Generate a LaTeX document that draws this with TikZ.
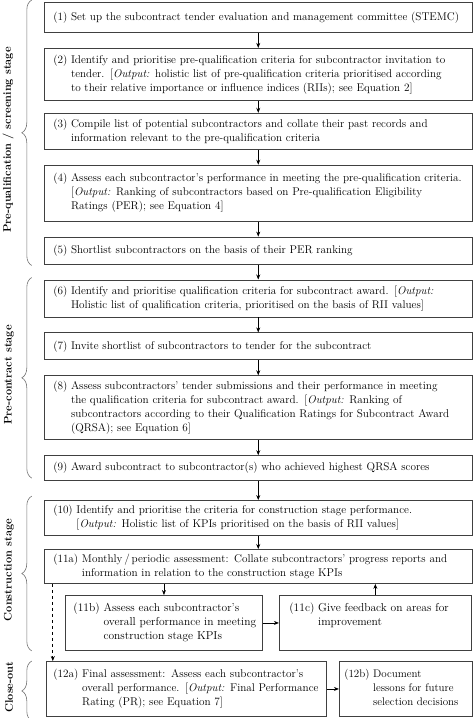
\documentclass[tikz,border=0pt]{standalone}
\usepackage{fontspec}
\usetikzlibrary{positioning,decorations.pathreplacing,arrows.meta}
\newcommand{\stagetext}[2]{\begin{tabular}{@{}l@{\ }l@{}}#1&#2\end{tabular}}
\pgfkeys{tikz/mainbox/.style={draw=black!75, line width=0.9pt, rectangle,
                                  inner xsep=9pt, inner ysep=3pt,
                                  text width=410pt, align=left,
                                  font=\fontsize{11.2}{14}\selectfont}}
\pgfkeys{tikz/subbox/.style={draw=black!75, line width=0.9pt, rectangle,
                                 inner ysep=3pt, align=left,
                                 font=\fontsize{11.5}{14}\selectfont}}
\begin{document}
\begin{tikzpicture}[x=1pt,y=-1pt,
        flow/.style={-{Stealth[length=5pt,width=4pt]}, line width=0.7pt},
        stagebrace/.style={decorate, decoration={brace, amplitude=10pt}, draw=black!55, line width=0.6pt},
        stagelabel/.style={rotate=90, font=\fontsize{11}{14}\selectfont\bfseries}]
    \useasboundingbox (0,0) rectangle (474,718);
    % main chain of steps
    \node [mainbox, minimum height=30pt, anchor=north] (b1) at (258.25,2) {\stagetext{(1)}{Set up the subcontract tender evaluation and management committee (STEMC)}};
    \node [mainbox, minimum height=52pt, below=15pt of b1] (b2) {\stagetext{(2)}{Identify and prioritise pre-qualification criteria for subcontractor invitation to\\ & tender. [\textit{Output:} holistic list of pre-qualification criteria prioritised according\\ & to their relative importance or influence indices (RIIs); see Equation 2]}};
    \node [mainbox, minimum height=36pt, below=12pt of b2] (b3) {\stagetext{(3)}{Compile list of potential subcontractors and collate their past records and\\ & information relevant to the pre-qualification criteria}};
    \node [mainbox, minimum height=56pt, below=15pt of b3] (b4) {\stagetext{(4)}{Assess each subcontractor's performance in meeting the pre-qualification criteria.\\ & [\textit{Output:} Ranking of subcontractors based on Pre-qualification Eligibility\\ & Ratings (PER); see Equation 4]}};
    \node [mainbox, minimum height=27pt, below=15pt of b4] (b5) {\stagetext{(5)}{Shortlist subcontractors on the basis of their PER ranking}};
    \node [mainbox, minimum height=37pt, below=15pt of b5] (b6) {\stagetext{(6)}{Identify and prioritise qualification criteria for subcontract award. [\textit{Output:}\\ & Holistic list of qualification criteria, prioritised on the basis of RII values]}};
    \node [mainbox, minimum height=27pt, below=15pt of b6] (b7) {\stagetext{(7)}{Invite shortlist of subcontractors to tender for the subcontract}};
    \node [mainbox, minimum height=64pt, below=15pt of b7] (b8) {\stagetext{(8)}{Assess subcontractors' tender submissions and their performance in meeting\\ & the qualification criteria for subcontract award. [\textit{Output:} Ranking of\\ & subcontractors according to their Qualification Ratings for Subcontract Award\\ & (QRSA); see Equation 6]}};
    \node [mainbox, minimum height=25pt, below=15pt of b8] (b9) {\stagetext{(9)}{Award subcontract to subcontractor(s) who achieved highest QRSA scores}};
    \node [mainbox, minimum height=35pt, below=19pt of b9] (b10) {\stagetext{(10)}{Identify and prioritise the criteria for construction stage performance.\\ & [\textit{Output:} Holistic list of KPIs prioritised on the basis of RII values]}};
    \node [mainbox, minimum height=32pt, below=13pt of b10] (b11a) {\stagetext{(11a)}{Monthly\,/\,periodic assessment: Collate subcontractors' progress reports and\\ & information in relation to the construction stage KPIs}};
    % split rows
    \node [subbox, inner xsep=8pt, text width=181pt, minimum height=55pt, anchor=north west] (b11b) at (65,595) {\stagetext{(11b)}{Assess each subcontractor's\\ & overall performance in meeting\\ & construction stage KPIs}};
    \node [subbox, inner xsep=10pt, text width=172pt, minimum height=55pt, right=16pt of b11b] (b11c) {\stagetext{(11c)}{Give feedback on areas for\\ & improvement\\ & \strut}};
    \node [subbox, inner xsep=7pt, text width=266pt, minimum height=55pt, anchor=north west, font=\fontsize{11.2}{14}\selectfont] (b12a) at (46,661) {\stagetext{(12a)}{Final assessment: Assess each subcontractor's\\ & overall performance. [\textit{Output:} Final Performance\\ & Rating (PR); see Equation 7]}};
    \node [subbox, inner xsep=5pt, text width=123pt, minimum height=55pt, right=12pt of b12a, font=\fontsize{11}{14}\selectfont] (b12b) {\stagetext{(12b)}{Document\\ & lessons for future\\ & selection decisions}};
    % connectors
    \foreach \a/\b in {b1/b2,b2/b3,b3/b4,b4/b5,b5/b6,b6/b7,b7/b8,b8/b9,b9/b10,b10/b11a}
        \draw [flow] (\a) -- (\b);
    \draw [flow] (b11b.north |- b11a.south) -- (b11b.north);
    \draw [flow] (b11b) -- (b11c);
    \draw [flow] (b11c.north) -- (b11c.north |- b11a.south);
    \draw [flow, dashed] ([xshift=9pt]b11a.south west) -- ([xshift=9pt]b11a.south west |- b12a.north);
    \draw [flow] (b12a) -- (b12b);
    % stages
    \draw [stagebrace] ([xshift=-12pt,yshift=-1pt]b5.south west) -- ([xshift=-12pt,yshift=2pt]b1.north west);
    \draw [stagebrace] ([xshift=-12pt,yshift=3pt]b9.south west) -- ([xshift=-12pt,yshift=2pt]b6.north west);
    \draw [stagebrace] (b11b.south -| b10.west) ++(-12pt,0) -- ([xshift=-12pt,yshift=4pt]b10.north west);
    \draw [stagebrace] ([xshift=-12pt,yshift=-4pt]b12a.south -| b10.west) -- ([xshift=-12pt]b12a.north -| b10.west);
    \node [stagelabel] (s1) at (8,140) {Pre-qualification / screening stage};
    \node [stagelabel] (s2) at (9,375) {Pre-contract stage};
    \node [stagelabel] (s3) at (9,570) {Construction stage};
    \node [stagelabel] (s4) at (9,687) {Close-out};
\end{tikzpicture}
\end{document}
